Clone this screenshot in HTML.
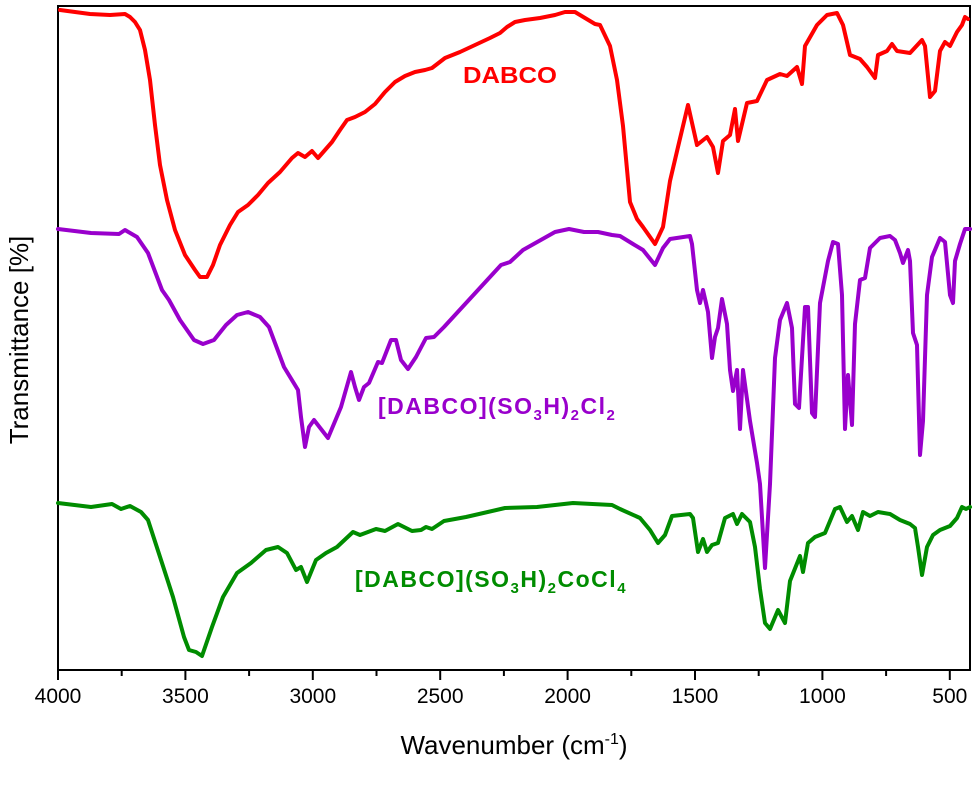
<!DOCTYPE html>
<html><head><meta charset="utf-8"><style>
html,body{margin:0;padding:0;background:#fff;}
svg{display:block;font-family:"Liberation Sans",sans-serif;}
</style></head><body>
<svg width="975" height="793" viewBox="0 0 975 793" xmlns="http://www.w3.org/2000/svg">
<rect x="58" y="6" width="912" height="664" fill="none" stroke="#000" stroke-width="2"/>
<g stroke="#000" stroke-width="2">
<line x1="58" y1="670" x2="58" y2="680"/><line x1="185.4" y1="670" x2="185.4" y2="680"/><line x1="312.8" y1="670" x2="312.8" y2="680"/><line x1="440.2" y1="670" x2="440.2" y2="680"/><line x1="567.6" y1="670" x2="567.6" y2="680"/><line x1="695" y1="670" x2="695" y2="680"/><line x1="822.4" y1="670" x2="822.4" y2="680"/><line x1="949.8" y1="670" x2="949.8" y2="680"/>
<line x1="121.7" y1="670" x2="121.7" y2="676"/><line x1="249.1" y1="670" x2="249.1" y2="676"/><line x1="376.5" y1="670" x2="376.5" y2="676"/><line x1="503.9" y1="670" x2="503.9" y2="676"/><line x1="631.3" y1="670" x2="631.3" y2="676"/><line x1="758.7" y1="670" x2="758.7" y2="676"/><line x1="886.1" y1="670" x2="886.1" y2="676"/>
</g>
<g font-size="21" text-anchor="middle" fill="#000">
<text x="58" y="703">4000</text><text x="185.4" y="703">3500</text><text x="312.8" y="703">3000</text><text x="440.2" y="703">2500</text><text x="567.6" y="703">2000</text><text x="695" y="703">1500</text><text x="822.4" y="703">1000</text><text x="949.8" y="703">500</text>
</g>
<text x="514" y="754" font-size="26" text-anchor="middle">Wavenumber (cm<tspan dy="-10" font-size="16">-1</tspan><tspan dy="10">)</tspan></text>
<text transform="translate(28,340) rotate(-90)" font-size="26" text-anchor="middle">Transmittance [%]</text>
<g fill="none" stroke-width="4" stroke-linejoin="round" stroke-linecap="round">
<polyline stroke="#ff0000" points="60,10 90,14 110,15 125,14 130,17 135,22 140,30 145,50 150,80 155,125 160,165 167,200 175,230 185,255 195,270 200,277 207,277 213,265 220,245 230,225 238,212 248,205 258,195 268,183 280,172 292,158 298,153 305,157 312,151 318,158 325,150 332,142 340,130 347,120 355,117 365,112 375,104 385,92 395,82 405,76 415,72 425,70 432,68 445,58 460,52 475,45 490,38 500,33 507,27 515,22 525,20 540,18 555,15 565,12 575,12 585,18 595,24 600,25 610,46 617,80 623,126 630,202 637,219 643,227 655,244 663,227 670,181 678,147 688,105 697,145 707,137 713,147 718,173 723,141 730,135 735,109 738,141 747,103 757,101 767,80 780,74 787,76 797,67 802,84 805,46 817,25 827,15 837,13 843,25 850,55 860,59 867,67 875,78 878,55 887,51 892,44 897,51 910,53 922,40 925,46 930,97 935,91 940,51 945,42 950,46 957,32 962,25 965,17 968,19"/>
<polyline stroke="#9900cc" points="58,229 91,233 119,234 125,230 137,237 148,253 162,290 169,300 180,320 194,340 203,344 214,340 226,325 237,315 248,312 260,317 269,327 284,367 298,390 301,417 305,447 309,427 314,420 328,438 341,407 351,372 355,387 359,400 364,387 369,383 378,362 382,363 391,340 396,340 401,360 408,369 416,357 426,338 434,337 444,327 501,265 510,262 523,250 555,232 569,229 584,232 598,232 612,235 620,236 633,244 643,250 655,265 663,248 670,239 690,236 692,244 697,290 700,303 703,290 706,303 708,312 712,358 715,337 718,328 722,299 727,324 730,370 733,391 737,370 740,429 743,370 750,421 757,463 760,484 765,568 770,484 775,358 780,320 787,303 792,328 795,404 799,408 805,307 808,307 812,413 815,417 820,303 828,261 833,242 838,244 842,295 845,429 848,375 852,425 855,324 860,280 865,278 870,248 880,238 890,236 895,240 900,253 903,263 908,250 910,261 913,333 917,345 920,455 923,421 927,295 932,257 940,238 945,242 950,295 953,303 955,261 960,244 965,229 970,229"/>
<polyline stroke="#008c00" points="58,503 91,507 112,504 121,509 130,506 141,512 148,520 162,563 173,597 184,637 189,650 196,652 202,656 212,627 223,597 237,573 251,563 266,550 278,547 287,553 296,570 301,567 307,582 316,560 326,553 337,547 353,532 360,535 376,529 385,531 398,524 412,531 421,530 426,527 432,529 444,521 466,517 505,508 537,507 573,503 612,505 620,509 640,518 650,530 658,543 665,535 672,516 690,514 693,518 698,552 703,539 707,552 712,545 718,543 725,518 733,514 737,524 742,514 750,522 755,547 760,589 765,623 770,629 778,610 785,623 790,581 800,556 803,572 808,543 815,537 825,533 835,509 840,507 847,522 852,516 858,530 863,512 870,516 878,512 890,514 900,520 910,524 915,528 918,547 922,575 927,547 933,535 940,530 950,526 957,518 962,507 966,509 970,507"/>
</g>
<g font-weight="bold" font-size="23">
<text x="463" y="83" fill="#ff0000" textLength="94" lengthAdjust="spacingAndGlyphs">DABCO</text>
<text x="378" y="414" fill="#9900cc" letter-spacing="1.5">[DABCO](SO<tspan dy="6" font-size="15">3</tspan><tspan dy="-6">H)</tspan><tspan dy="6" font-size="15">2</tspan><tspan dy="-6">Cl</tspan><tspan dy="6" font-size="15">2</tspan></text>
<text x="355" y="587" fill="#008c00" letter-spacing="1.5">[DABCO](SO<tspan dy="6" font-size="15">3</tspan><tspan dy="-6">H)</tspan><tspan dy="6" font-size="15">2</tspan><tspan dy="-6">CoCl</tspan><tspan dy="6" font-size="15">4</tspan></text>
</g>
</svg>
</body></html>
